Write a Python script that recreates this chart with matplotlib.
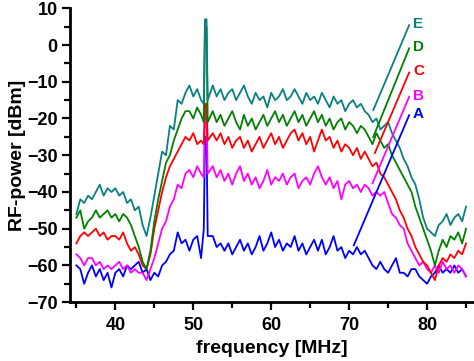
import numpy as np
import matplotlib
matplotlib.use("Agg")
import matplotlib.pyplot as plt
from matplotlib.ticker import MultipleLocator

# frequency grid [MHz], with extra points around the carrier at ~51.6 MHz
freq = np.concatenate([np.arange(35.0, 51.01, 0.5),
                       [51.35, 51.5, 51.7, 51.85],
                       np.arange(52.5, 85.01, 0.5)])

trace_a = [-60, -61, -65, -62, -60, -63, -61, -64, -62, -66,
           -62, -61, -63, -60, -61, -60, -59, -62, -61, -64,
           -62, -63, -60, -59, -57, -56, -51, -54, -53, -56,
           -53, -52, -58,
           -50, -25, -25, -52,
           -52, -55, -54, -56, -54, -57, -55, -53, -56, -54,
           -57, -55, -52, -56, -54, -51, -55, -53, -56, -54,
           -55, -52, -56, -54, -57, -55, -53, -56, -53, -57,
           -55, -52, -56, -55, -58, -56, -57, -55, -57, -56,
           -58, -60, -61, -59, -61, -62, -60, -58, -62, -62,
           -63, -61, -61, -63, -64, -65, -63, -62, -60, -62,
           -61, -62, -60, -62, -61, -63]

trace_b = [-57, -58, -60, -58, -58, -60, -59, -61, -60, -61,
           -60, -59, -61, -60, -62, -61, -62, -62, -64, -61,
           -58, -54, -50, -48, -44, -42, -38, -39, -35, -34,
           -36, -33, -35,
           -36, -18, -18, -35,
           -33, -36, -34, -37, -35, -38, -35, -33, -37, -35,
           -38, -36, -39, -37, -34, -38, -36, -37, -35, -38,
           -36, -35, -39, -37, -36, -38, -35, -33, -36, -38,
           -36, -39, -37, -42, -38, -37, -39, -38, -40, -38,
           -39, -41, -40, -41, -40, -43, -46, -47, -49, -50,
           -54, -56, -58, -60, -59, -61, -62, -60, -62, -59,
           -61, -60, -62, -60, -61, -63]

trace_c = [-54, -52, -51, -52, -51, -50, -52, -51, -53, -52,
           -52, -53, -51, -54, -56, -55, -57, -60, -61, -57,
           -50, -45, -40, -36, -33, -31, -29, -27, -25, -26,
           -24, -27, -26,
           -27, -16, -16, -26,
           -24, -26, -24, -27, -25, -28, -26, -25, -28, -26,
           -29, -27, -25, -28, -26, -24, -27, -25, -28, -26,
           -24, -23, -26, -24, -27, -25, -29, -26, -23, -26,
           -25, -28, -26, -29, -27, -28, -30, -28, -31, -29,
           -31, -33, -32, -35, -36, -38, -40, -42, -45, -47,
           -50, -52, -55, -57, -59, -60, -62, -64, -60, -58,
           -59, -57, -58, -56, -57, -54]

trace_d = [-47, -45, -50, -48, -47, -45, -47, -46, -45, -47,
           -46, -48, -46, -47, -49, -52, -55, -59, -61, -56,
           -48, -42, -37, -32, -30, -26, -23, -20, -18, -18,
           -20, -17, -19,
           -21, 5, 5, -21,
           -18, -21, -19, -22, -20, -18, -21, -23, -19, -22,
           -20, -23, -21, -19, -22, -20, -18, -21, -19, -22,
           -20, -18, -21, -19, -22, -20, -18, -21, -19, -22,
           -20, -23, -21, -20, -23, -21, -22, -24, -22, -23,
           -25, -27, -24, -26, -28, -27, -30, -32, -34, -36,
           -38, -40, -44, -47, -50, -53, -56, -60, -56, -53,
           -55, -52, -53, -51, -54, -50]

trace_e = [-46, -42, -43, -41, -42, -40, -38, -41, -39, -40,
           -39, -41, -40, -43, -42, -45, -44, -49, -52, -47,
           -41, -35, -29, -30, -22, -23, -15, -16, -13, -11,
           -14, -12, -15,
           -16, 7, 7, -15,
           -11, -14, -12, -15, -13, -12, -15, -13, -11, -14,
           -16, -13, -15, -14, -17, -13, -15, -14, -12, -15,
           -14, -12, -14, -16, -13, -15, -14, -16, -13, -15,
           -17, -14, -16, -15, -18, -16, -15, -17, -16, -18,
           -19, -21, -20, -23, -22, -21, -24, -26, -28, -31,
           -33, -36, -38, -42, -47, -50, -51, -52, -49, -48,
           -46, -49, -47, -46, -48, -44]

labels = ["A", "B", "C", "D", "E"]
colors = ["#0000ff", "#ff00ff", "#ff0000", "#008000", "#0a8080"]

# leader lines: (x0, y0) on the trace -> (x1, y1) next to the letter
leaders = [(70.6, -54.5, 77.7, -19.1),
           (73.0, -37.6, 77.7, -14.1),
           (73.3, -29.4, 77.7, -7.5),
           (73.1, -25.0, 77.7, -0.9),
           (73.1, -17.7, 77.7, 5.4)]

plt.rcParams["font.family"] = ["Liberation Sans", "DejaVu Sans"]
plt.rcParams["font.weight"] = "bold"

fig = plt.figure(figsize=(4.74, 3.61), dpi=100)
ax = fig.add_axes([0.148, 0.163, 0.85, 0.814])

traces = [trace_a, trace_b, trace_c, trace_d, trace_e]
for vals, col in zip(traces, colors):
    ax.plot(freq, vals, color=col, lw=1.3)

for (x0, y0, x1, y1), lab, col in zip(leaders, labels, colors):
    ax.plot([x0, x1], [y0, y1], color=col, lw=1.3)
    ax.text(x1 + 0.5, y1 + 0.3, lab, color=col, fontsize=11,
            fontweight="bold", ha="left", va="center")

ax.set_xlim(34.2, 85.9)
ax.set_ylim(-70, 10)
ax.xaxis.set_major_locator(MultipleLocator(10))
ax.xaxis.set_minor_locator(MultipleLocator(5))
ax.yaxis.set_major_locator(MultipleLocator(10))
ax.yaxis.set_minor_locator(MultipleLocator(5))

for s in ["top", "right"]:
    ax.spines[s].set_visible(False)
for s in ["left", "bottom"]:
    ax.spines[s].set_linewidth(2)

ax.tick_params(which="major", direction="out", length=6, width=1.6)
ax.tick_params(which="minor", direction="out", length=4, width=1.6)
ax.tick_params(axis="x", labelsize=13, pad=5)
ax.tick_params(axis="y", labelsize=13, pad=3)
for t in ax.get_xticklabels() + ax.get_yticklabels():
    t.set_fontweight("bold")

ax.set_xlabel("frequency [MHz]", fontsize=14, fontweight="bold", labelpad=4)
ax.set_ylabel("RF-power [dBm]", fontsize=14, fontweight="bold", labelpad=1)

fig.savefig("out.png", dpi=100)
